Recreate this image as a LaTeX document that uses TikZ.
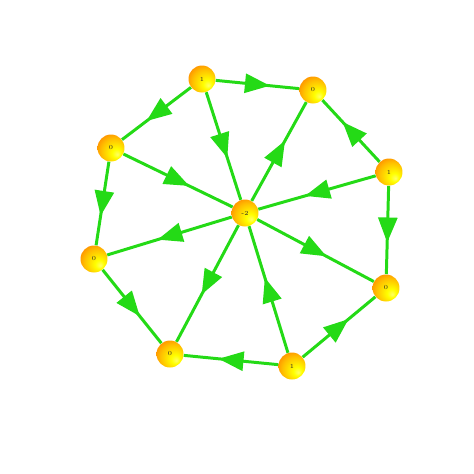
\documentclass[tikz,border=0pt]{standalone}
\usetikzlibrary{arrows.meta,decorations.markings}
\definecolor{edgegreen}{RGB}{36,218,22}
\pgfdeclareradialshading{goldball}{\pgfqpoint{12bp}{-12bp}}{color(0bp)=(yellow!60!white); color(8bp)=(yellow); color(24bp)=(yellow!50!orange); color(40bp)=(orange!85!red); color(50bp)=(orange!75!red)}
\begin{document}
\begin{tikzpicture}[
                    x=0.02cm, y=-0.02cm,
                    >={Triangle[length=0.5cm,width=0.38cm]},
                    vertex/.style={circle, shading=goldball, minimum size=0.54cm, inner sep=0pt,
                                   font=\fontsize{3.5}{4}\selectfont, text=black!85},
                    flow/.style={color=edgegreen, line width=1.7pt, postaction={decorate},
                                 decoration={markings, mark=at position 0.5 with {\arrow[xshift=0.25cm]{>}}}}
                ]
                \useasboundingbox (0,0) rectangle (474,474);
                % Vertices
                \node [vertex] (c)  at (245,213) {-2};
                \node [vertex] (v1) at (202,79)  {1};
                \node [vertex] (v2) at (313,90)  {0};
                \node [vertex] (v3) at (389,172) {1};
                \node [vertex] (v4) at (386,288) {0};
                \node [vertex] (v5) at (292,366) {1};
                \node [vertex] (v6) at (170,354) {0};
                \node [vertex] (v7) at (94,259)  {0};
                \node [vertex] (v8) at (111,148) {0};

                % Rim
                \draw [flow] (v1) -- (v2);
                \draw [flow] (v3) -- (v2);
                \draw [flow] (v3) -- (v4);
                \draw [flow] (v5) -- (v4);
                \draw [flow] (v5) -- (v6);
                \draw [flow] (v7) -- (v6);
                \draw [flow] (v8) -- (v7);
                \draw [flow] (v1) -- (v8);

                % Spokes
                \draw [flow] (v1) -- (c);
                \draw [flow] (c) -- (v2);
                \draw [flow] (v3) -- (c);
                \draw [flow] (c) -- (v4);
                \draw [flow] (v5) -- (c);
                \draw [flow] (c) -- (v6);
                \draw [flow] (c) -- (v7);
                \draw [flow] (v8) -- (c);
            \end{tikzpicture}
\end{document}
